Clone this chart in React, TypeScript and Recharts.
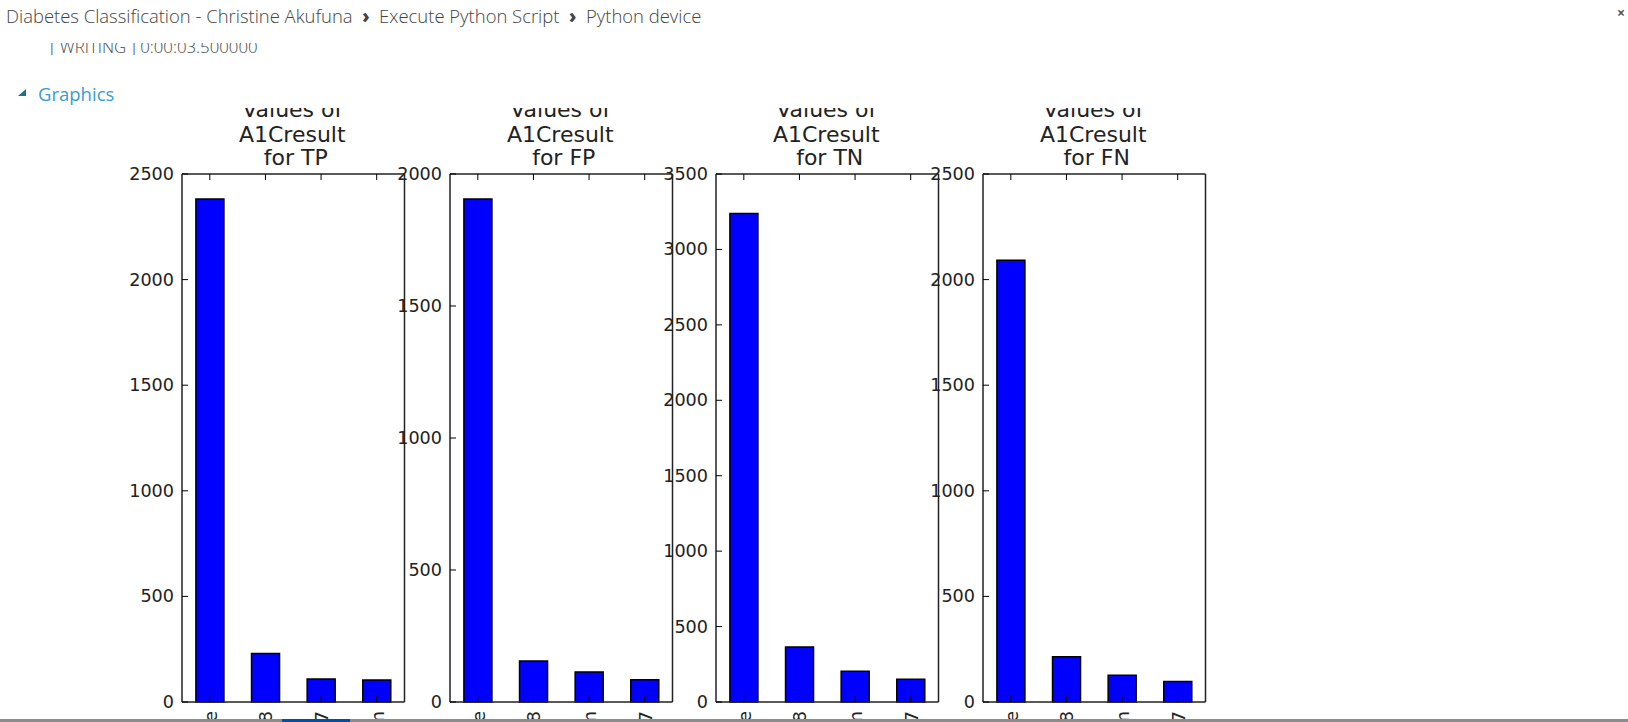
import { BarChart, Bar, XAxis, YAxis } from 'recharts';

const PANELS = ['TP', 'FP', 'TN', 'FN'];
const tpCategories = ['None', '>8', '>7', 'Norm'];
const otherCategories = ['None', '>8', 'Norm', '>7'];
const tpCounts = [2382, 230, 109, 104];
const fpCounts = [1905, 155, 114, 84];
const tnCounts = [3238, 365, 204, 151];
const fnCounts = [2092, 214, 127, 97];
const tpTicks = [0, 500, 1000, 1500, 2000, 2500];
const fpTicks = [0, 500, 1000, 1500, 2000];
const tnTicks = [0, 500, 1000, 1500, 2000, 2500, 3000, 3500];
const fnTicks = [0, 500, 1000, 1500, 2000, 2500];

const PLOT_LEFTS = [182, 449.5, 716, 983];
const PLOT_W = 222.5;
const PLOT_TOP = 66;
const PLOT_H = 528;
const LEFT_W = 70;
const MONO = 'DejaVu Sans';

const makeRows = (cats: string[], counts: number[]) => cats.map((name, i) => ({ name, count: counts[i] }));

// matplotlib style ticks point inwards, so axes draw them by hand
const BottomTick = ({ x, payload }: any) => (
  <g>
    <line x1={x} x2={x} y1={PLOT_TOP + PLOT_H} y2={PLOT_TOP + PLOT_H - 6} stroke="#000" strokeWidth={1} />
    <text x={0} y={0} transform={`translate(${x + 7} ${PLOT_TOP + PLOT_H + 9}) rotate(-90)`} textAnchor="end" fontFamily={MONO} fontSize={18} fill="#222">
      {payload.value}
    </text>
  </g>
);
const TopTick = ({ x }: any) => <line x1={x} x2={x} y1={PLOT_TOP} y2={PLOT_TOP + 6} stroke="#000" strokeWidth={1} />;
const LeftTick = ({ y, payload }: any) => (
  <g>
    <line x1={LEFT_W} x2={LEFT_W + 6} y1={y} y2={y} stroke="#000" strokeWidth={1} />
    <text x={LEFT_W - 8} y={y + 6} textAnchor="end" fontFamily={MONO} fontSize={17.6} fill="#222">
      {payload.value}
    </text>
  </g>
);
const RightTick = ({ y }: any) => (
  <line x1={LEFT_W + PLOT_W} x2={LEFT_W + PLOT_W - 6} y1={y} y2={y} stroke="#000" strokeWidth={1} />
);

function Panel({ index, cats, counts, ticks }: { index: number; cats: string[]; counts: number[]; ticks: number[] }) {
  const data = makeRows(cats, counts);
  const domain = [0, ticks[ticks.length - 1]];
  const axisLine = { stroke: '#222', strokeWidth: 1.5 };
  const cx = LEFT_W + PLOT_W / 2 - 1;
  return (
    <div style={{ position: 'absolute', left: PLOT_LEFTS[index] - LEFT_W, top: 108, width: LEFT_W + PLOT_W + 8, height: 611, overflow: 'hidden' }}>
      <BarChart
        width={LEFT_W + PLOT_W + 8}
        height={611}
        data={data}
        margin={{ top: PLOT_TOP - 1, right: 7, bottom: 0, left: 0 }}
        barCategoryGap="25%"
      >
        <XAxis dataKey="name" height={17} axisLine={axisLine} tickLine={false} tick={<BottomTick />} interval={0} />
        <XAxis xAxisId="top" dataKey="name" orientation="top" height={1} axisLine={axisLine} tickLine={false} tick={<TopTick />} interval={0} />
        <YAxis width={LEFT_W} domain={domain} ticks={ticks} axisLine={axisLine} tickLine={false} tick={<LeftTick />} interval={0} />
        <YAxis yAxisId="right" orientation="right" width={1} domain={domain} ticks={ticks} axisLine={axisLine} tickLine={false} tick={<RightTick />} interval={0} />
        <Bar dataKey="count" fill="#0000ff" stroke="#000" strokeWidth={1.5} isAnimationActive={false} />
        <text textAnchor="middle" fontFamily={MONO} fontSize={22} fill="#222" style={{ whiteSpace: 'pre' }}>
          <tspan x={cx} y={9}>Values of</tspan>
          <tspan x={cx} y={34}>A1Cresult</tspan>
          <tspan x={cx} y={57}>{` for ${PANELS[index]}`}</tspan>
        </text>
      </BarChart>
    </div>
  );
}

export default function App() {
  const ui = 'Open Sans';
  return (
    <div style={{ position: 'absolute', left: 0, top: 0, width: 1628, height: 722, overflow: 'hidden', background: '#fff', fontFamily: ui }}>
      <div style={{ position: 'absolute', left: 6, top: 3, fontSize: 18.45, fontWeight: 300, color: '#444', whiteSpace: 'pre' }}>
        Diabetes Classification - Christine Akufuna <b style={{ fontWeight: 800 }}> › </b> Execute Python Script <b style={{ fontWeight: 800 }}> › </b> Python device
      </div>
      <div style={{ position: 'absolute', left: 1617, top: 3, fontSize: 14, fontWeight: 700, color: '#555' }}>×</div>
      <div style={{ position: 'absolute', left: 0, top: 43, width: 400, height: 12, overflow: 'hidden' }}>
        <div style={{ position: 'absolute', left: 50, top: -8, fontSize: 16.8, fontWeight: 300, color: '#444', whiteSpace: 'pre' }}>
          [ WRITING ] 0:00:03.500000
        </div>
      </div>
      <svg style={{ position: 'absolute', left: 17, top: 88 }} width={10} height={10}>
        <polygon points="1,8 9,8 9,1" fill="#1f6f8f" />
      </svg>
      <div style={{ position: 'absolute', left: 38, top: 81, fontSize: 18.5, color: '#3a9ccb' }}>Graphics</div>

      <Panel index={0} cats={tpCategories} counts={tpCounts} ticks={tpTicks} />
      <Panel index={1} cats={otherCategories} counts={fpCounts} ticks={fpTicks} />
      <Panel index={2} cats={otherCategories} counts={tnCounts} ticks={tnTicks} />
      <Panel index={3} cats={otherCategories} counts={fnCounts} ticks={fnTicks} />

      <div style={{ position: 'absolute', left: 0, top: 719, width: 1628, height: 3, background: '#8c8c8c' }} />
      <div style={{ position: 'absolute', left: 282, top: 719, width: 68, height: 3, background: '#0050a0' }} />
    </div>
  );
}
